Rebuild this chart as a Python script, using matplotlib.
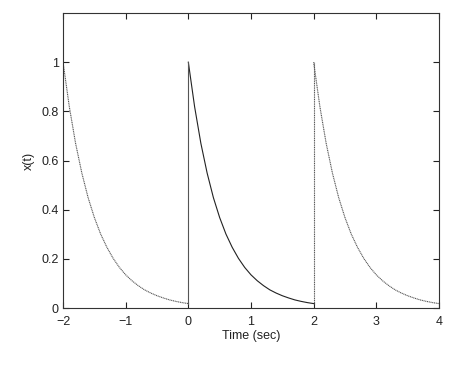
import matplotlib
matplotlib.use("Agg")
import matplotlib.pyplot as plt

plt.rcParams['font.family'] = ['Liberation Sans', 'DejaVu Sans']

t_period = [0.0, 0.1, 0.2, 0.3, 0.4, 0.5, 0.6, 0.7, 0.8, 0.9, 1.0,
            1.1, 1.2, 1.3, 1.4, 1.5, 1.6, 1.7, 1.8, 1.9, 2.0]
x_period = [1.0, 0.819, 0.670, 0.549, 0.449, 0.368, 0.301, 0.247, 0.202, 0.165, 0.135,
            0.111, 0.091, 0.074, 0.061, 0.050, 0.041, 0.033, 0.027, 0.022, 0.018]
period_starts = [-2, 0, 2]
period_styles = ['dotted', 'solid', 'dotted']
x_ticks = [-2, -1, 0, 1, 2, 3, 4]
y_ticks = [0, 0.2, 0.4, 0.6, 0.8, 1]

fig = plt.figure(figsize=(4.74, 3.72), dpi=100)
ax = fig.add_axes([0.133, 0.172, 0.793, 0.793])

for start, style in zip(period_starts, period_styles):
    tt = [start + v for v in t_period]
    color = '#222222' if style == 'solid' else '#555555'
    ax.plot(tt, x_period, linestyle=(0, (1, 0.6)) if style == 'dotted' else '-',
            color=color, linewidth=0.8)
    # vertical jump at the start of each period
    if start > -2:
        ax.plot([start, start], [x_period[-1], x_period[0]],
                linestyle=(0, (1, 0.6)) if style == 'dotted' else '-',
                color='#555555', linewidth=0.8)

ax.set_xlim(-2, 4)
ax.set_ylim(0, 1.2)
ax.set_xticks(x_ticks)
ax.set_xticklabels(['\u22122', '\u22121', '0', '1', '2', '3', '4'])
ax.set_yticks(y_ticks)
ax.set_yticklabels(['0', '0.2', '0.4', '0.6', '0.8', '1'])
ax.tick_params(direction='in', top=True, right=True, length=4, width=0.8,
               labelsize=9, colors='#222222', pad=3)
ax.tick_params(axis='x', pad=6)
for s in ax.spines.values():
    s.set_linewidth(0.8)
    s.set_color('#333333')
ax.set_xlabel('Time (sec)', fontsize=9, color='#222222', labelpad=1)
ax.set_ylabel('x(t)', fontsize=9, color='#222222', labelpad=5)

fig.savefig('out.png', dpi=100)
